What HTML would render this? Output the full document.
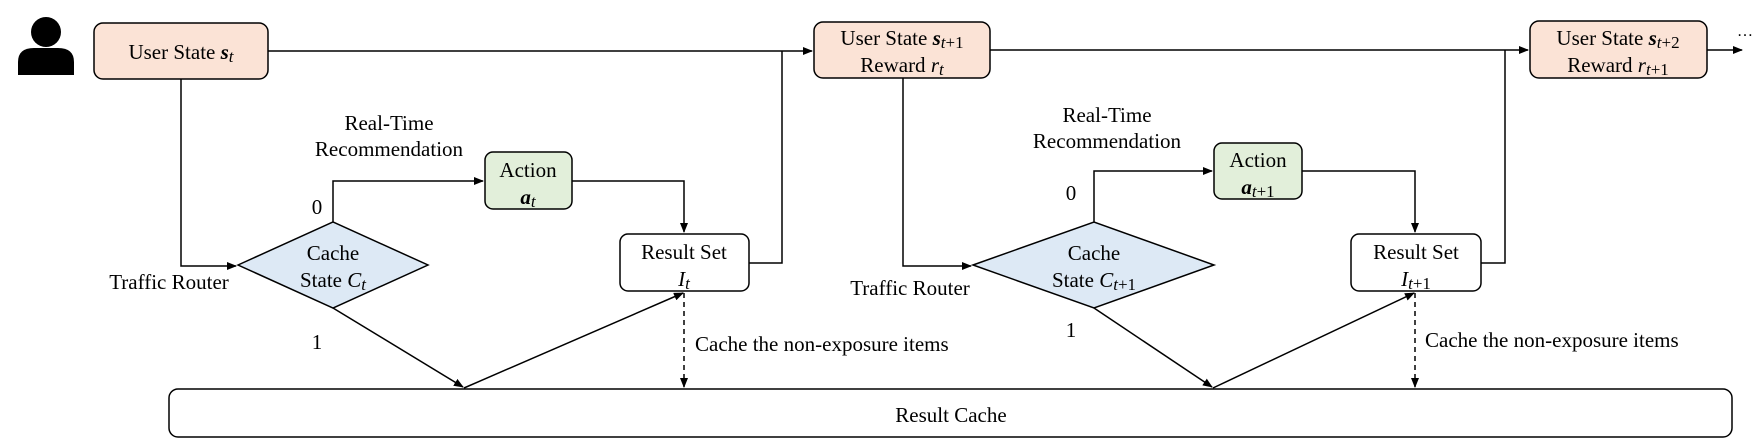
<!DOCTYPE html>
<html><head><meta charset="utf-8"><style>
html,body{margin:0;padding:0;background:#fff;}
svg{display:block;font-family:"Liberation Serif",serif;}
</style></head><body>
<svg width="1758" height="443" viewBox="0 0 1758 443" xmlns="http://www.w3.org/2000/svg">
<defs>
<marker id="ar" markerWidth="10" markerHeight="8" refX="9" refY="4" orient="auto" markerUnits="userSpaceOnUse">
<path d="M0,0 L10,4 L0,8 z" fill="#000"/></marker>
</defs>
<g fill="#000">
<circle cx="46" cy="32" r="15"/>
<path d="M18,75 L18,62 Q18,48 34,48 L58,48 Q74,48 74,62 L74,75 z"/>
</g>
<g stroke="#000" stroke-width="1.5" fill="none">
<rect x="94" y="23" width="174" height="56" rx="9" fill="#fbe3d6"/>
<rect x="814" y="22" width="176" height="56" rx="9" fill="#fbe3d6"/>
<rect x="1530" y="21" width="177" height="57" rx="9" fill="#fbe3d6"/>
<rect x="485" y="152" width="87" height="57" rx="8" fill="#e2efda"/>
<rect x="1214" y="143" width="88" height="56" rx="8" fill="#e2efda"/>
<rect x="620" y="234" width="129" height="57" rx="8" fill="#fff"/>
<rect x="1351" y="234" width="130" height="57" rx="8" fill="#fff"/>
<rect x="169" y="389" width="1563" height="48" rx="9" fill="#fff"/>
<polygon points="238,265 333,222 428,265 333,308" fill="#dde9f5"/>
<polygon points="973,265 1094,222 1214,265 1094,308" fill="#dde9f5"/>
</g>
<g stroke="#000" stroke-width="1.5" fill="none">
<path d="M268,51 L812,51" marker-end="url(#ar)"/>
<path d="M990,50 L1528,50" marker-end="url(#ar)"/>
<path d="M1707,50 L1742,50" marker-end="url(#ar)"/>
<path d="M181,79 L181,266 L236,266" marker-end="url(#ar)"/>
<path d="M903,78 L903,266 L971,266" marker-end="url(#ar)"/>
<path d="M333,222 L333,181 L483,181" marker-end="url(#ar)"/>
<path d="M1094,222 L1094,171 L1212,171" marker-end="url(#ar)"/>
<path d="M572,181 L684,181 L684,232" marker-end="url(#ar)"/>
<path d="M1302,171 L1415,171 L1415,232" marker-end="url(#ar)"/>
<path d="M749,263 L782,263 L782,51"/>
<path d="M1481,263 L1505,263 L1505,50"/>
<path d="M333,308 L463,387" marker-end="url(#ar)"/>
<path d="M464,388 L683,293" marker-end="url(#ar)"/>
<path d="M1094,308 L1212,387" marker-end="url(#ar)"/>
<path d="M1213,388 L1414,293" marker-end="url(#ar)"/>
<path d="M684,293 L684,387" stroke-dasharray="5,4" marker-end="url(#ar)"/>
<path d="M1415,293 L1415,387" stroke-dasharray="5,4" marker-end="url(#ar)"/>
</g>
<g font-size="21" fill="#000" text-anchor="middle">
<text x="181" y="59">User State <tspan font-weight="bold" font-style="italic">s</tspan><tspan font-style="italic" font-size="17" dy="3">t</tspan></text>
<text x="902" y="45">User State <tspan font-weight="bold" font-style="italic">s</tspan><tspan font-style="italic" font-size="17" dy="3">t</tspan><tspan font-size="17">+1</tspan></text>
<text x="902" y="72">Reward <tspan font-style="italic">r</tspan><tspan font-style="italic" font-size="17" dy="3">t</tspan></text>
<text x="1618" y="45">User State <tspan font-weight="bold" font-style="italic">s</tspan><tspan font-style="italic" font-size="17" dy="3">t</tspan><tspan font-size="17">+2</tspan></text>
<text x="1618" y="72">Reward <tspan font-style="italic">r</tspan><tspan font-style="italic" font-size="17" dy="3">t</tspan><tspan font-size="17">+1</tspan></text>
<text x="1745" y="36" font-size="16">…</text>
<text x="528" y="177">Action</text>
<text x="528" y="204"><tspan font-weight="bold" font-style="italic">a</tspan><tspan font-style="italic" font-size="17" dy="3">t</tspan></text>
<text x="1258" y="167">Action</text>
<text x="1258" y="194"><tspan font-weight="bold" font-style="italic">a</tspan><tspan font-style="italic" font-size="17" dy="3">t</tspan><tspan font-size="17">+1</tspan></text>
<text x="684" y="259">Result Set</text>
<text x="684" y="286"><tspan font-style="italic">I</tspan><tspan font-style="italic" font-size="17" dy="3">t</tspan></text>
<text x="1416" y="259">Result Set</text>
<text x="1416" y="286"><tspan font-style="italic">I</tspan><tspan font-style="italic" font-size="17" dy="3">t</tspan><tspan font-size="17">+1</tspan></text>
<text x="333" y="260">Cache</text>
<text x="333" y="287">State <tspan font-style="italic">C</tspan><tspan font-style="italic" font-size="17" dy="3">t</tspan></text>
<text x="1094" y="260">Cache</text>
<text x="1094" y="287">State <tspan font-style="italic">C</tspan><tspan font-style="italic" font-size="17" dy="3">t</tspan><tspan font-size="17">+1</tspan></text>
<text x="389" y="130">Real-Time</text>
<text x="389" y="156">Recommendation</text>
<text x="1107" y="122">Real-Time</text>
<text x="1107" y="148">Recommendation</text>
<text x="169" y="289">Traffic Router</text>
<text x="910" y="295">Traffic Router</text>
<text x="317" y="214">0</text>
<text x="317" y="349">1</text>
<text x="1071" y="200">0</text>
<text x="1071" y="337">1</text>
<text x="951" y="422">Result Cache</text>
</g>
<g font-size="21" fill="#000">
<text x="695" y="351">Cache the non-exposure items</text>
<text x="1425" y="347">Cache the non-exposure items</text>
</g>
</svg>
</body></html>
